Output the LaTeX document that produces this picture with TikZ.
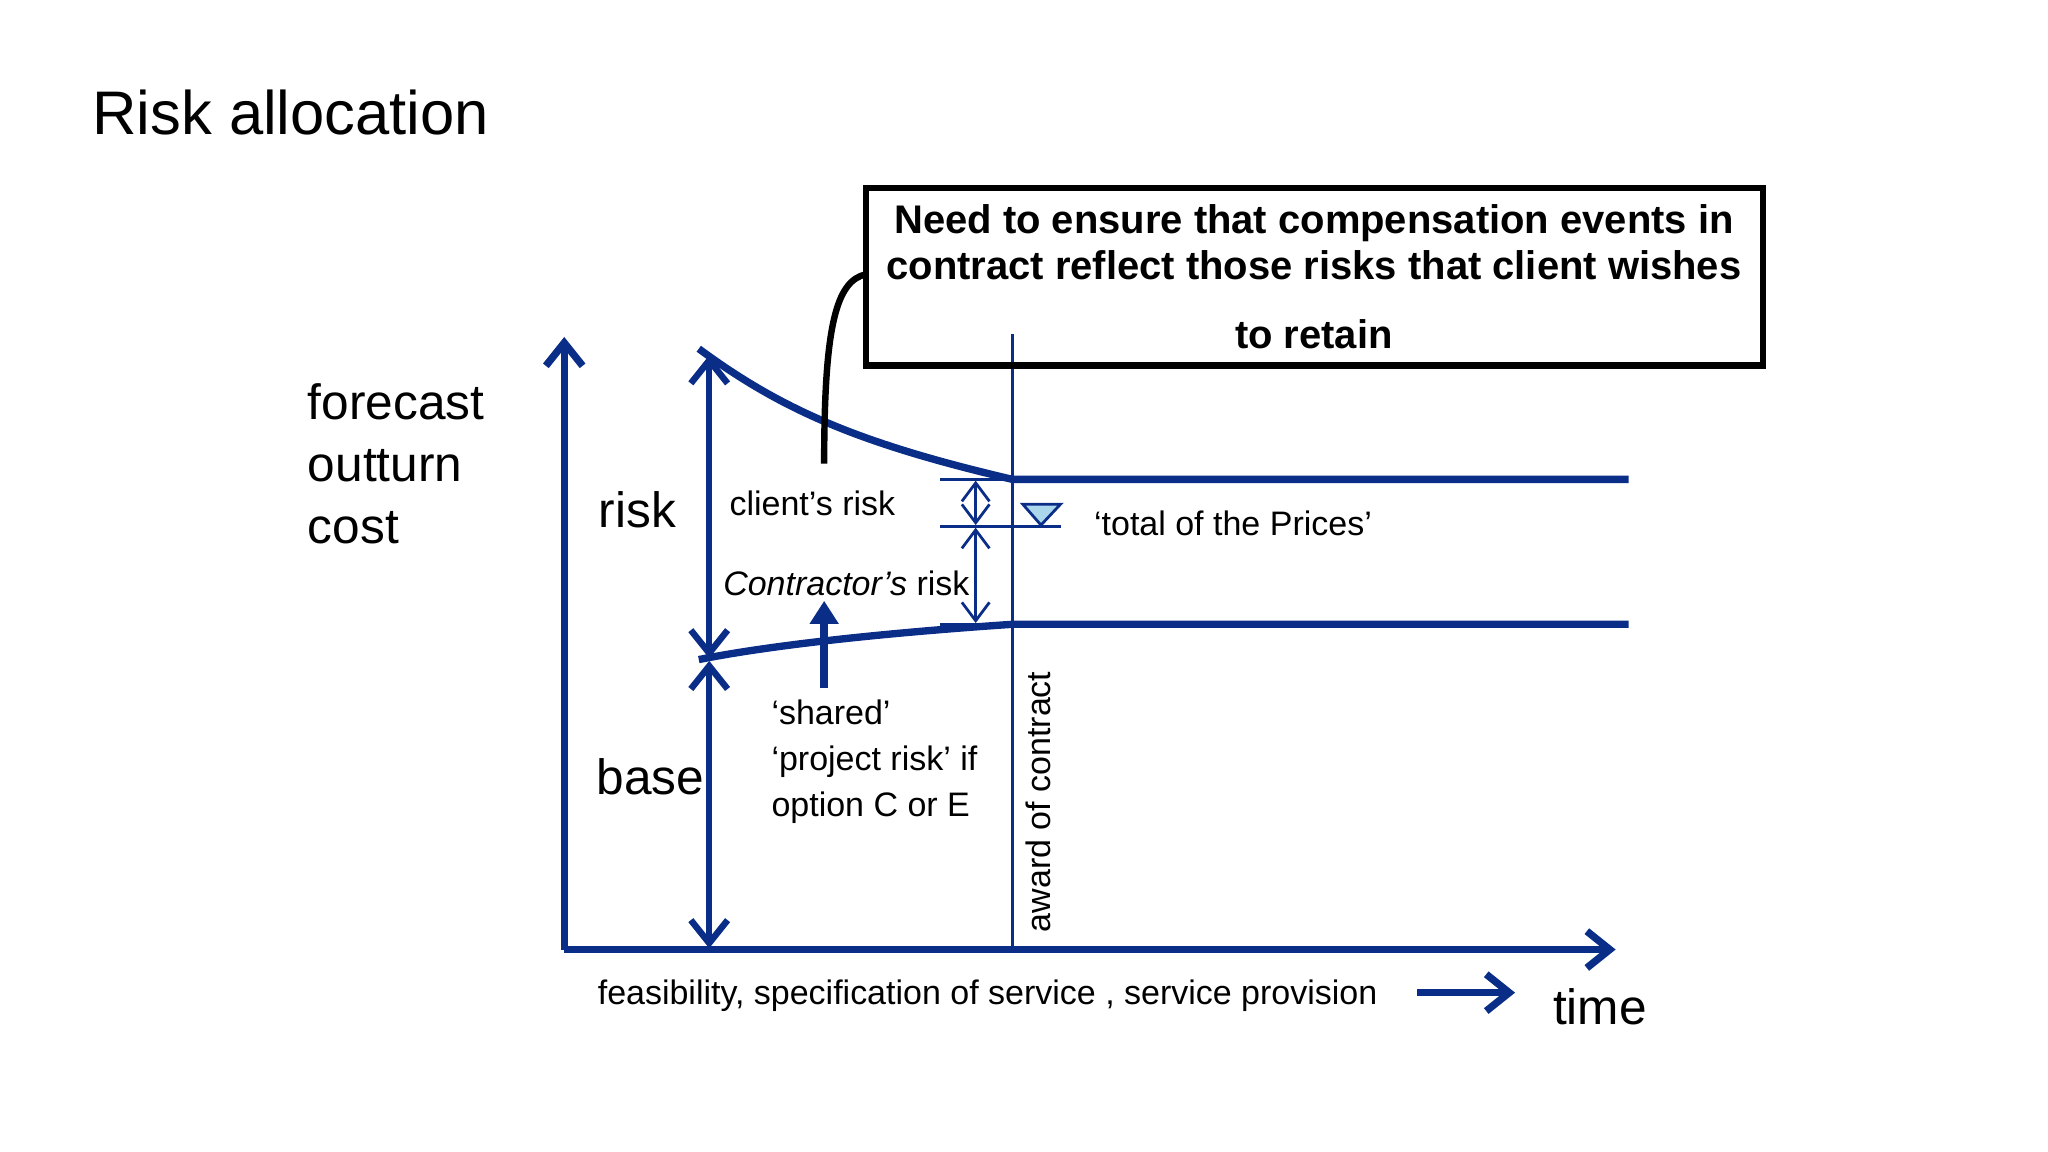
\documentclass[tikz,border=0pt]{standalone}
\usepackage{fontspec}
\setmainfont{Liberation Sans}
\usetikzlibrary{arrows.meta}
\definecolor{db}{RGB}{10,45,135}
\definecolor{lb}{RGB}{170,215,235}
\begin{document}
\begin{tikzpicture}[x=0.01cm,y=-0.01cm,
  ax/.style={db,line width=1.6pt,-{Straight Barb[length=5pt,width=8pt]}},
  dbl/.style={db,line width=1.4pt,{Straight Barb[length=5pt,width=8pt]}-{Straight Barb[length=5pt,width=8pt]}},
  thinl/.style={db,line width=0.6pt},
  sdbl/.style={db,line width=0.6pt,{Straight Barb[length=4pt,width=6pt]}-{Straight Barb[length=4pt,width=6pt]}},
  curve/.style={db,line width=1.6pt},
  lab/.style={inner sep=0pt,font=\fontsize{7.4pt}{9pt}\selectfont},
  big/.style={inner sep=0pt,font=\fontsize{10.8pt}{13.5pt}\selectfont}]
\useasboundingbox (0,0) rectangle (1568,882);
\node[anchor=west,inner sep=0pt,font=\fontsize{13.4pt}{16pt}\selectfont] (title) at (70,86) {Risk allocation};
\coordinate (o) at (432,727);
\coordinate (ytop) at (432,258);
\coordinate (xend) at (1237,727);
\draw[ax] (o) -- (ytop);
\draw[ax] (o) -- (xend);
% curves
\coordinate (u0) at (535,267); \coordinate (u1) at (775,367); \coordinate (u2) at (1247,367);
\coordinate (l0) at (535,505); \coordinate (l1) at (775,478); \coordinate (l2) at (1247,478);
\draw[curve] (u0) .. controls (600,315) and (660,340) .. (u1) -- (u2);
\draw[curve] (l0) .. controls (600,492) and (700,483) .. (l1) -- (l2);
% main double arrows
\coordinate (r1) at (543,272); \coordinate (r2) at (543,504);
\coordinate (b1) at (543,506); \coordinate (b2) at (543,726);
\draw[dbl] (r1) -- (r2);
\draw[dbl] (b1) -- (b2);
% award line
\coordinate (a1) at (775,256); \coordinate (a2) at (775,727);
\draw[thinl] (a1) -- (a2);
% ticks
\coordinate (t1a) at (720,367); \coordinate (t1b) at (775,367);
\coordinate (t2a) at (720,403); \coordinate (t2b) at (812,403);
\coordinate (t3a) at (720,478); \coordinate (t3b) at (775,478);
\draw[thinl] (t1a) -- (t1b); \draw[thinl] (t2a) -- (t2b); \draw[thinl] (t3a) -- (t3b);
\coordinate (d1) at (747,368); \coordinate (d2) at (747,402);
\coordinate (d3) at (747,404); \coordinate (d4) at (747,477);
\draw[sdbl] (d1) -- (d2); \draw[sdbl] (d3) -- (d4);
\draw[thinl,fill=lb] (783,386) -- (812,386) -- (797,402) -- cycle;
% texts
\node[big,anchor=west,align=left] (foc) at (235,355) {forecast\\[0pt]outturn\\[0pt]cost};
\node[big] (risk) at (488,390) {risk};
\node[big] (base) at (498,595) {base};
\node[lab] (cr) at (622,385) {client’s risk};
\node[lab] (kr) at (648,447) {\itshape Contractor’s\upshape{} risk};
\node[lab,anchor=west] (tp) at (837,401) {‘total of the Prices’};
\node[lab,anchor=west,align=left] (sh) at (590,583) {‘shared’\\[1pt]‘project risk’ if\\[1pt]option C or E};
\node[lab,rotate=90] (aw) at (795,614) {award of contract};
\node[lab,anchor=west] (feas) at (457,762) {feasibility, specification of service , service provision};
\node[big] (time) at (1225,771) {time};
\coordinate (ta1) at (1085,760); \coordinate (ta2) at (1160,760);
\draw[ax] (ta1) -- (ta2);
\coordinate (sa1) at (631,527); \coordinate (sa2) at (631,460);
\draw[db,line width=1.6pt,-{Triangle[length=5pt,width=6pt]}] (sa1) -- (sa2);
% callout
\coordinate (bx1) at (663,144); \coordinate (bx2) at (1350,280);
\draw[line width=1.4pt] (bx1) rectangle (bx2);
\node[inner sep=0pt,align=center,font=\bfseries\fontsize{8.7pt}{12pt}\selectfont] (box) at (1006,212)
{Need to ensure that compensation events in\\[-2pt]contract reflect those risks that client wishes\\[3pt]to retain};
\coordinate (cs) at (631,355); \coordinate (ce) at (663,210);
\draw[line width=1.4pt] (cs) .. controls (631,250) and (640,215) .. (ce);
\end{tikzpicture}
\end{document}
